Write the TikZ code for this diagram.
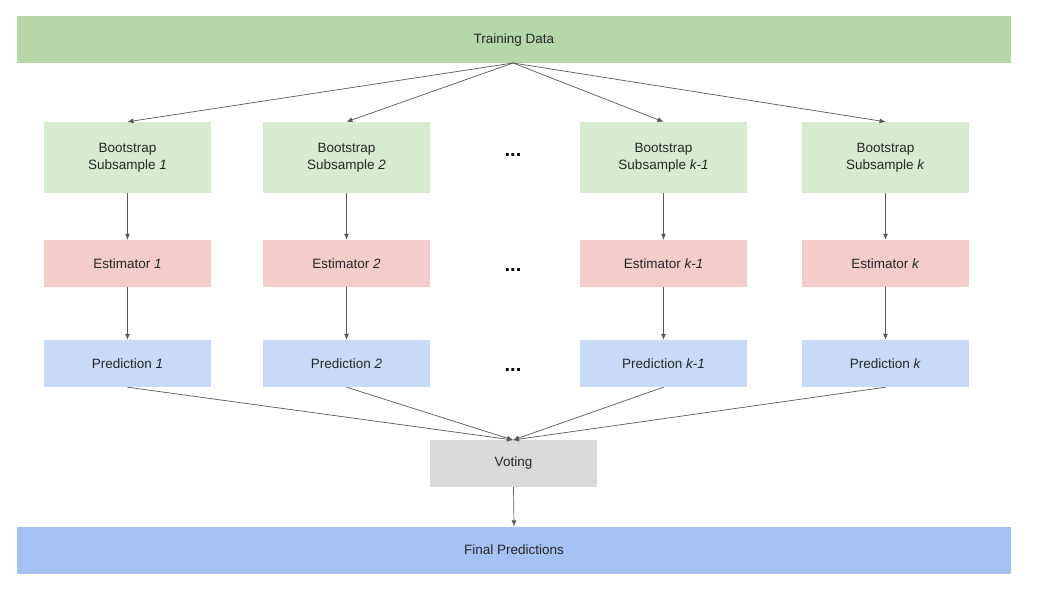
\documentclass[tikz,border=0pt]{standalone}
\usepackage{fontspec}
\setmainfont{Liberation Sans}
\usetikzlibrary{arrows.meta}
\definecolor{tdg}{HTML}{B6D7A8}
\definecolor{bsg}{HTML}{D9EAD3}
\definecolor{esr}{HTML}{F4CCCC}
\definecolor{prb}{HTML}{C9DAF8}
\definecolor{vot}{HTML}{D9D9D9}
\definecolor{fin}{HTML}{A4C2F4}
\definecolor{arr}{HTML}{595959}
\begin{document}
\begin{tikzpicture}[x=1pt,y=-1pt,
  box/.style={draw=none,inner sep=0pt,minimum width=167pt,minimum height=47pt,align=center,font=\fontsize{13.5}{17}\selectfont,text=black!85},
  wide/.style={box,minimum width=994pt},
  bs/.style={box,fill=bsg,minimum height=71pt},
  es/.style={box,fill=esr},
  pr/.style={box,fill=prb},
  ar/.style={draw=arr,line width=0.7pt,-{Latex[length=6pt,width=5pt]}},
  dots/.style={font=\fontsize{20}{20}\selectfont\bfseries}]
\useasboundingbox (0,0) rectangle (1038,593);
\node[wide,fill=tdg] (td) at (514,40) {Training Data};
\foreach \n/\x/\l in {1/127.5/\textit{1},2/346.5/\textit{2},3/663.5/\textit{k-1},4/885.5/\textit{k}}{
  \node[bs] (b\n) at (\x,157.5) {Bootstrap\\Subsample \l};
  \node[es] (e\n) at (\x,263.5) {Estimator \l};
  \node[pr] (p\n) at (\x,363.5) {Prediction \l};
  \draw[ar] (e\n) -- (p\n);
  \draw[ar] (b\n) -- (e\n);
}
\node[dots] (d1) at (513,155) {...};
\node[dots] (d2) at (513,270) {...};
\node[dots] (d3) at (513,370) {...};
\node[box,fill=vot] (v) at (513.5,463.5) {Voting};
\node[wide,fill=fin] (f) at (514,550) {Final Predictions};
\coordinate (tdb) at (513,63);
\coordinate (vt) at (513,440);
\foreach \n in {1,2,3,4}{
  \draw[ar] (tdb) -- (b\n.north);
  \draw[ar] (p\n.south) -- (vt);
}
\draw[ar] (v.south) -- (f.north);
\end{tikzpicture}
\end{document}
